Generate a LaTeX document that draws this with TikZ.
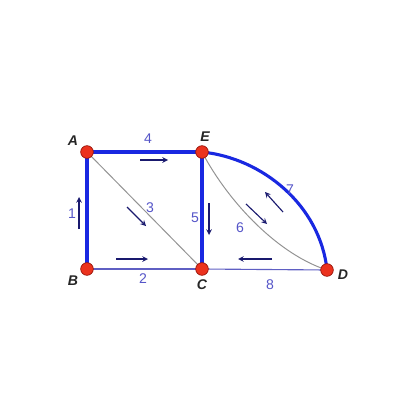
\documentclass[tikz,border=0pt]{standalone}
\usepackage{fontspec}
\setmainfont{Liberation Sans}
\usepackage{tikz}
\usetikzlibrary{positioning,arrows}
\definecolor{heavyblue}{RGB}{25,40,225}
\definecolor{lightblue}{RGB}{95,95,195}
\definecolor{numblue}{RGB}{85,85,200}
\definecolor{arrnavy}{RGB}{25,25,110}
\definecolor{vred}{RGB}{235,50,30}
\definecolor{vdark}{RGB}{150,20,10}

\tikzset{
  vertex/.style={circle,fill=vred,draw=vdark,line width=0.5pt,inner sep=0pt,minimum size=9pt},
  vlabel/.style={font=\bfseries\itshape\normalsize,text=black!85},
  wlabel/.style={font=\normalsize,text=numblue},
  heavy/.style={heavyblue,line width=2.2pt},
  thin/.style={lightblue,line width=0.8pt},
  faint/.style={gray!85,line width=0.7pt},
  dir/.style={arrnavy,line width=0.8pt,-stealth}
}

\begin{document}
\begin{tikzpicture}[x=0.025cm,y=-0.025cm]
    \useasboundingbox (0,0) rectangle (400,400);
    % vertices
    \coordinate (A) at (87,152);
    \coordinate (E) at (202,152);
    \coordinate (B) at (87,269);
    \coordinate (C) at (202,269);
    \coordinate (D) at (327,270);
    % edges
    \draw[faint] (A) -- (C);
    \draw[faint] (E) .. controls (230,205) and (280,255) .. (D);
    \draw[thin] (B) -- (C);
    \draw[thin] (C) -- (D);
    \draw[heavy] (A) -- (E);
    \draw[heavy] (A) -- (B);
    \draw[heavy] (E) -- (C);
    \draw[heavy] (E) .. controls (262,158) and (320,205) .. (D);
    % direction arrows
    \draw[dir] (140,160) -- (168,160);
    \draw[dir] (79,229) -- (79,197);
    \draw[dir] (127,207) -- (146,226);
    \draw[dir] (116,259) -- (148,259);
    \draw[dir] (209,203) -- (209,235);
    \draw[dir] (246,204) -- (267,224);
    \draw[dir] (283,212) -- (265,192);
    \draw[dir] (272,259) -- (238,259);
    % weights
    \node[wlabel] (w1) at (72,214) {1};
    \node[wlabel] (w2) at (143,279) {2};
    \node[wlabel] (w3) at (150,208) {3};
    \node[wlabel] (w4) at (148,139) {4};
    \node[wlabel] (w5) at (195,218) {5};
    \node[wlabel] (w6) at (240,228) {6};
    \node[wlabel] (w7) at (290,190) {7};
    \node[wlabel] (w8) at (270,285) {8};
    % vertex dots and names
    \foreach \v in {A,E,B,C,D}
      \node[vertex] (n\v) at (\v) {};
    \node[vlabel] (lA) at (73,141) {A};
    \node[vlabel] (lE) at (205,137) {E};
    \node[vlabel] (lB) at (73,281) {B};
    \node[vlabel] (lC) at (202,285) {C};
    \node[vlabel] (lD) at (343,275) {D};
\end{tikzpicture}
\end{document}
